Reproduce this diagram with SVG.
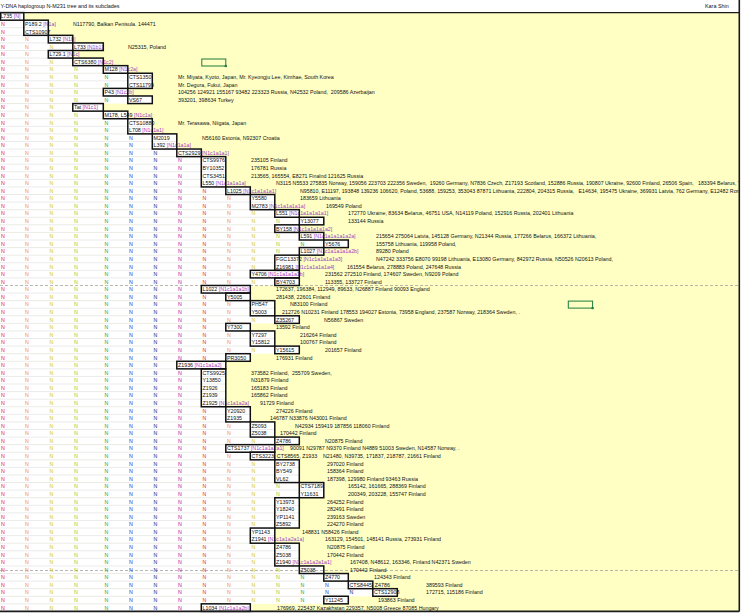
<svg xmlns="http://www.w3.org/2000/svg" width="743" height="613" viewBox="0 0 743 613">
<style>
text{font-family:"Liberation Sans",Arial,sans-serif;font-size:5.3px;fill:#111}
.l{fill:#a03cc0}
.w{fill:#fff}
.f{fill:none;stroke:#111;stroke-width:1.5}
text.nn{fill:url(#ng)}
</style>
<defs>
<clipPath id="clipR"><rect x="0" y="0" width="738.6" height="613"/></clipPath>
<linearGradient id="ng" gradientUnits="userSpaceOnUse" x1="0" y1="0" x2="400" y2="0">
<stop offset="0" stop-color="#e52d27"/><stop offset="0.0595" stop-color="#e52d27"/>
<stop offset="0.0595" stop-color="#f08c30"/><stop offset="0.12075" stop-color="#f08c30"/>
<stop offset="0.12075" stop-color="#cfc21e"/><stop offset="0.182" stop-color="#cfc21e"/>
<stop offset="0.182" stop-color="#96c83c"/><stop offset="0.25825" stop-color="#96c83c"/>
<stop offset="0.25825" stop-color="#2e9e3a"/><stop offset="0.3195" stop-color="#2e9e3a"/>
<stop offset="0.3195" stop-color="#2b3fd6"/><stop offset="0.38075" stop-color="#2b3fd6"/>
<stop offset="0.38075" stop-color="#23307a"/><stop offset="0.442" stop-color="#23307a"/>
<stop offset="0.442" stop-color="#9b2fae"/><stop offset="0.50325" stop-color="#9b2fae"/>
<stop offset="0.50325" stop-color="#e52d27"/><stop offset="0.5645" stop-color="#e52d27"/>
<stop offset="0.5645" stop-color="#f08c30"/><stop offset="0.62575" stop-color="#f08c30"/>
<stop offset="0.62575" stop-color="#cfc21e"/><stop offset="0.687" stop-color="#cfc21e"/>
<stop offset="0.687" stop-color="#96c83c"/><stop offset="0.74825" stop-color="#96c83c"/>
<stop offset="0.74825" stop-color="#2e9e3a"/><stop offset="0.8095" stop-color="#2e9e3a"/>
<stop offset="0.8095" stop-color="#2b3fd6"/><stop offset="0.87075" stop-color="#2b3fd6"/>
<stop offset="0.87075" stop-color="#23307a"/><stop offset="1" stop-color="#23307a"/>
</linearGradient>
</defs>
<rect x="0" y="0" width="743" height="613" fill="#fff"/>
<rect x="0" y="12.6" width="739" height="598.8" fill="#ffffc4"/>
<g id="title">
<text x="0.5" y="7.6" style="font-size:5.4px">Y-DNA haplogroup N-M231 tree and its subclades</text>
<text x="705" y="7.6" style="font-size:5.4px">Kara Shin</text>
</g>
<g id="whitecells">
<rect class="w" x="0" y="12.6" width="23.8" height="7.58"/>
<rect class="w" x="0" y="20.18" width="48.3" height="15.16"/>
<rect class="w" x="0" y="35.34" width="72.8" height="7.58"/>
<rect class="w" x="0" y="42.92" width="103.3" height="7.58"/>
<rect class="w" x="0" y="50.5" width="72.8" height="7.58"/>
<rect class="w" x="0" y="58.08" width="103.3" height="7.58"/>
<rect class="w" x="0" y="65.66" width="127.8" height="7.58"/>
<rect class="w" x="0" y="73.24" width="152.3" height="15.16"/>
<rect class="w" x="0" y="88.4" width="127.8" height="7.58"/>
<rect class="w" x="0" y="95.98" width="152.3" height="7.58"/>
<rect class="w" x="0" y="103.56" width="103.3" height="7.58"/>
<rect class="w" x="0" y="111.14" width="127.8" height="7.58"/>
<rect class="w" x="0" y="118.72" width="152.3" height="15.16"/>
<rect class="w" x="0" y="133.88" width="176.8" height="15.16"/>
<rect class="w" x="0" y="149.04" width="201.3" height="7.58"/>
<rect class="w" x="0" y="156.62" width="225.8" height="30.32"/>
<rect class="w" x="0" y="186.94" width="250.3" height="7.58"/>
<rect class="w" x="0" y="194.52" width="274.8" height="15.16"/>
<rect class="w" x="0" y="209.68" width="299.3" height="7.58"/>
<rect class="w" x="0" y="217.26" width="323.8" height="7.58"/>
<rect class="w" x="0" y="224.84" width="299.3" height="7.58"/>
<rect class="w" x="0" y="232.42" width="323.8" height="7.58"/>
<rect class="w" x="0" y="240" width="348.3" height="7.58"/>
<rect class="w" x="0" y="247.58" width="323.8" height="7.58"/>
<rect class="w" x="0" y="255.16" width="299.3" height="30.32"/>
<rect class="w" x="0" y="285.48" width="250.3" height="15.16"/>
<rect class="w" x="0" y="300.64" width="274.8" height="15.16"/>
<rect class="w" x="0" y="315.8" width="299.3" height="7.58"/>
<rect class="w" x="0" y="323.38" width="250.3" height="7.58"/>
<rect class="w" x="0" y="330.96" width="274.8" height="15.16"/>
<rect class="w" x="0" y="346.12" width="299.3" height="7.58"/>
<rect class="w" x="0" y="353.7" width="250.3" height="7.58"/>
<rect class="w" x="0" y="361.28" width="225.8" height="45.48"/>
<rect class="w" x="0" y="406.76" width="250.3" height="15.16"/>
<rect class="w" x="0" y="421.92" width="274.8" height="15.16"/>
<rect class="w" x="0" y="437.08" width="299.3" height="7.58"/>
<rect class="w" x="0" y="444.66" width="274.8" height="15.16"/>
<rect class="w" x="0" y="459.82" width="299.3" height="22.74"/>
<rect class="w" x="0" y="482.56" width="323.8" height="15.16"/>
<rect class="w" x="0" y="497.72" width="299.3" height="30.32"/>
<rect class="w" x="0" y="528.04" width="274.8" height="15.16"/>
<rect class="w" x="0" y="543.2" width="299.3" height="22.74"/>
<rect class="w" x="0" y="565.94" width="323.8" height="7.58"/>
<rect class="w" x="0" y="573.52" width="348.3" height="7.58"/>
<rect class="w" x="0" y="581.1" width="372.8" height="7.58"/>
<rect class="w" x="0" y="588.68" width="397.3" height="7.58"/>
<rect class="w" x="0" y="596.26" width="348.3" height="7.58"/>
<rect class="w" x="0" y="603.84" width="250.3" height="7.58"/>
</g>
<path id="gridlines" fill="none" stroke="#d6d6d6" stroke-width="0.5" d="M0 20.18H23.8M0 27.76H48.3M0 35.34H48.3M0 42.92H72.8M0 50.5H72.8M0 58.08H72.8M0 65.66H103.3M0 73.24H127.8M0 80.82H152.3M0 88.4H127.8M0 95.98H127.8M0 103.56H103.3M0 111.14H103.3M0 118.72H127.8M0 126.3H152.3M0 133.88H152.3M0 141.46H176.8M0 149.04H176.8M0 156.62H201.3M0 164.2H225.8M0 171.78H225.8M0 179.36H225.8M0 186.94H225.8M0 194.52H250.3M0 202.1H274.8M0 209.68H274.8M0 217.26H299.3M0 224.84H299.3M0 232.42H299.3M0 240H323.8M0 247.58H323.8M0 255.16H299.3M0 262.74H299.3M0 270.32H299.3M0 277.9H299.3M0 293.06H250.3M0 300.64H250.3M0 308.22H274.8M0 315.8H274.8M0 323.38H250.3M0 330.96H250.3M0 338.54H274.8M0 346.12H274.8M0 353.7H250.3M0 361.28H225.8M0 368.86H225.8M0 376.44H225.8M0 384.02H225.8M0 391.6H225.8M0 399.18H225.8M0 406.76H225.8M0 414.34H250.3M0 421.92H250.3M0 429.5H274.8M0 437.08H274.8M0 444.66H274.8M0 452.24H274.8M0 459.82H274.8M0 467.4H299.3M0 474.98H299.3M0 482.56H299.3M0 490.14H323.8M0 497.72H299.3M0 505.3H299.3M0 512.88H299.3M0 520.46H299.3M0 528.04H274.8M0 535.62H274.8M0 543.2H274.8M0 550.78H299.3M0 558.36H299.3M0 565.94H299.3M0 573.52H323.8M0 581.1H348.3M0 588.68H372.8M0 596.26H348.3M0 603.84H250.3"/>
<path id="pagebreaks" fill="none" stroke="#9a9a9a" stroke-width="0.7" stroke-dasharray="3 2" d="M0 285.5H738M0 570.5H738"/>
<g id="r1"><text x="0.4" y="18.4">L735 <tspan class="l">[N]</tspan></text></g>
<g id="r2"><text class="nn" x="1" y="25.9">N</text><text x="25" y="25.9">P189.2 <tspan class="l">[N1a]</tspan></text><text x="73" y="25.9">N117790, Balkan Penisula. 144471</text></g>
<g id="r3"><text class="nn" x="1" y="33.5">N</text><text x="25" y="33.5">CTS10907</text></g>
<g id="r4"><text class="nn" x="1 25" y="41.1">NN</text><text x="49.5" y="41.1">L732 <tspan class="l">[N1b]</tspan></text></g>
<g id="r5"><text class="nn" x="1 25 49.5" y="48.7">NNN</text><text x="74" y="48.7">L733 <tspan class="l">[N1b1]</tspan></text><text x="128" y="48.7">N25315, Poland</text></g>
<g id="r6"><text class="nn" x="1 25" y="56.3">NN</text><text x="49.5" y="56.3">L729.1 <tspan class="l">[N1c]</tspan></text></g>
<g id="r7"><text class="nn" x="1 25 49.5" y="63.8">NNN</text><text x="74" y="63.8">CTS6380 <tspan class="l">[N1c2]</tspan></text></g>
<g id="r8"><text class="nn" x="1 25 49.5 74" y="71.4">NNNN</text><text x="104.5" y="71.4">M128 <tspan class="l">[N1c2a]</tspan></text></g>
<g id="r9"><text class="nn" x="1 25 49.5 74 104.6" y="79">NNNNN</text><text x="129" y="79">CTS1350</text><text x="178" y="79">Mr. Miyata, Kyoto, Japan, Mr. Kyeongju Lee, Kimhae, South Korea</text></g>
<g id="r10"><text class="nn" x="1 25 49.5 74 104.6" y="86.6">NNNNN</text><text x="129" y="86.6">CTS11799</text><text x="178" y="86.6">Mr. Degura, Fukui, Japan</text></g>
<g id="r11"><text class="nn" x="1 25 49.5 74" y="94.2">NNNN</text><text x="104.5" y="94.2">P43 <tspan class="l">[N1c2b]</tspan></text><text x="178" y="94.2" xml:space="preserve">104256 124921 155167 93482 223323 Russia, N42532 Poland,  209586 Azerbaijan</text></g>
<g id="r12"><text class="nn" x="1 25 49.5 74 104.6" y="101.7">NNNNN</text><text x="129" y="101.7">VS67</text><text x="178" y="101.7">393201, 398634 Turkey</text></g>
<g id="r13"><text class="nn" x="1 25 49.5" y="109.3">NNN</text><text x="74" y="109.3">Tat <tspan class="l">[N1c1]</tspan></text></g>
<g id="r14"><text class="nn" x="1 25 49.5 74" y="116.9">NNNN</text><text x="104.5" y="116.9">M178, L549 <tspan class="l">[N1c1a]</tspan></text></g>
<g id="r15"><text class="nn" x="1 25 49.5 74 104.6" y="124.5">NNNNN</text><text x="129" y="124.5">CTS10880</text><text x="178" y="124.5">Mr. Terasawa, Niigata, Japan</text></g>
<g id="r16"><text class="nn" x="1 25 49.5 74 104.6" y="132.1">NNNNN</text><text x="129" y="132.1">L708 <tspan class="l">[N1c1a1]</tspan></text></g>
<g id="r17"><text class="nn" x="1 25 49.5 74 104.6 129" y="139.6">NNNNNN</text><text x="153.5" y="139.6">M2019</text><text x="202" y="139.6">N56160 Estonia, N92307 Croatia</text></g>
<g id="r18"><text class="nn" x="1 25 49.5 74 104.6 129" y="147.2">NNNNNN</text><text x="153.5" y="147.2">L392 <tspan class="l">[N1c1a1a]</tspan></text></g>
<g id="r19"><text class="nn" x="1 25 49.5 74 104.6 129 153.6" y="154.8">NNNNNNN</text><text x="178" y="154.8">CTS2929 <tspan class="l">[N1c1a1a1]</tspan></text></g>
<g id="r20"><text class="nn" x="1 25 49.5 74 104.6 129 153.6 178.1" y="162.4">NNNNNNNN</text><text x="202.5" y="162.4">CTS9976</text><text x="251" y="162.4">235105 Finland</text></g>
<g id="r21"><text class="nn" x="1 25 49.5 74 104.6 129 153.6 178.1" y="170">NNNNNNNN</text><text x="202.5" y="170">BY10352</text><text x="251" y="170">176781 Russia</text></g>
<g id="r22"><text class="nn" x="1 25 49.5 74 104.6 129 153.6 178.1" y="177.5">NNNNNNNN</text><text x="202.5" y="177.5">CTS3451</text><text x="251" y="177.5">213565, 165554, E8271 Finalnd 121625 Russia</text></g>
<g id="r23"><text class="nn" x="1 25 49.5 74 104.6 129 153.6 178.1" y="185.1">NNNNNNNN</text><text x="202.5" y="185.1">L550 <tspan class="l">[N1c1a1a1a]</tspan></text><text x="276" y="185.1" clip-path="url(#clipR)" textLength="465" lengthAdjust="spacingAndGlyphs" xml:space="preserve">N3115 N5533 275835 Norway, 159056 223703 222356 Sweden,  19260 Germany, N7836 Czech, Z17193 Scotland, 152886 Russia, 190807 Ukraine, 92600 Finland, 26506 Spain,   183394 Belarus, T</text></g>
<g id="r24"><text class="nn" x="1 25 49.5 74 104.6 129 153.6 178.1 202.6" y="192.7">NNNNNNNNN</text><text x="227" y="192.7">L1025 <tspan class="l">[N1c1a1a1a1]</tspan></text><text x="300" y="192.7" clip-path="url(#clipR)" textLength="441" lengthAdjust="spacingAndGlyphs" xml:space="preserve">N95810, E11197, 193848 139236 106620, Poland, 53688, 159253, 353043 87871 Lithuania, 222804, 204315 Russia,   E14634, 195475 Ukraine, 369931 Latvia, 762 Germany, E12482 Rom</text></g>
<g id="r25"><text class="nn" x="1 25 49.5 74 104.6 129 153.6 178.1 202.6 227.1" y="200.3">NNNNNNNNNN</text><text x="251.5" y="200.3">Y5580</text><text x="300" y="200.3">183659 Lithuania</text></g>
<g id="r26"><text class="nn" x="1 25 49.5 74 104.6 129 153.6 178.1 202.6 227.1" y="207.9">NNNNNNNNNN</text><text x="251.5" y="207.9">M2783 <tspan class="l">[N1c1a1a1a1a]</tspan></text><text x="326" y="207.9">169549 Poland</text></g>
<g id="r27"><text class="nn" x="1 25 49.5 74 104.6 129 153.6 178.1 202.6 227.1 251.6" y="215.4">NNNNNNNNNNN</text><text x="276" y="215.4">L551 <tspan class="l">[N1c1a1a1a1a1]</tspan></text><text x="348" y="215.4">172770 Ukraine, 83634 Belarus, 46751 USA, N14119 Poland, 152916 Russia, 202401 Lithuania</text></g>
<g id="r28"><text class="nn" x="1 25 49.5 74 104.6 129 153.6 178.1 202.6 227.1 251.6 276.1" y="223">NNNNNNNNNNNN</text><text x="300.5" y="223">Y13077</text><text x="348" y="223">133144 Russia</text></g>
<g id="r29"><text class="nn" x="1 25 49.5 74 104.6 129 153.6 178.1 202.6 227.1 251.6" y="230.6">NNNNNNNNNNN</text><text x="276" y="230.6">BY158 <tspan class="l">[N1c1a1a1a1a2]</tspan></text></g>
<g id="r30"><text class="nn" x="1 25 49.5 74 104.6 129 153.6 178.1 202.6 227.1 251.6 276.1" y="238.2">NNNNNNNNNNNN</text><text x="300.5" y="238.2">L591 <tspan class="l">[N1c1a1a1a1a2a]</tspan></text><text x="376" y="238.2">215654 275064 Latvia, 145128 Germany, N21344 Russia, 177266 Belarus, 166372 Lithuania,</text></g>
<g id="r31"><text class="nn" x="1 25 49.5 74 104.6 129 153.6 178.1 202.6 227.1 251.6 276.1 300.6" y="245.8">NNNNNNNNNNNNN</text><text x="325" y="245.8">Y5676</text><text x="376" y="245.8">155758 Lithuania, 119958 Poland,</text></g>
<g id="r32"><text class="nn" x="1 25 49.5 74 104.6 129 153.6 178.1 202.6 227.1 251.6 276.1" y="253.3">NNNNNNNNNNNN</text><text x="300.5" y="253.3">L1027 <tspan class="l">[N1c1a1a1a1a2b]</tspan></text><text x="376" y="253.3">89280 Poland</text></g>
<g id="r33"><text class="nn" x="1 25 49.5 74 104.6 129 153.6 178.1 202.6 227.1 251.6" y="260.9">NNNNNNNNNNN</text><text x="276" y="260.9">FGC13372 <tspan class="l">[N1c1a1a1a1a3]</tspan></text><text x="376" y="260.9">N47242 333756 E8070 99198 Lithuania, E13080 Germany, 842972 Russia, N50526 N20613 Poland,</text></g>
<g id="r34"><text class="nn" x="1 25 49.5 74 104.6 129 153.6 178.1 202.6 227.1 251.6" y="268.5">NNNNNNNNNNN</text><text x="276" y="268.5">Z16981 <tspan class="l">[N1c1a1a1a1a4]</tspan></text><text x="347" y="268.5">161554 Belarus, 278883 Poland, 247648 Russia</text></g>
<g id="r35"><text class="nn" x="1 25 49.5 74 104.6 129 153.6 178.1 202.6 227.1" y="276.1">NNNNNNNNNN</text><text x="251.5" y="276.1">Y4706 <tspan class="l">[N1c1a1a1a1b]</tspan></text><text x="325" y="276.1">231562 272510 Finland, 174607 Sweden, N9209 Poland</text></g>
<g id="r36"><text class="nn" x="1 25 49.5 74 104.6 129 153.6 178.1 202.6 227.1 251.6" y="283.7">NNNNNNNNNNN</text><text x="276" y="283.7">BY4703</text><text x="325" y="283.7">113355, 133727 Finland</text></g>
<g id="r37"><text class="nn" x="1 25 49.5 74 104.6 129 153.6 178.1" y="291.2">NNNNNNNN</text><text x="202.5" y="291.2">L1022 <tspan class="l">[N1c1a1a1b]</tspan></text><text x="276" y="291.2">172637, 196384, 112949, 89633, N26887 Finland 90093 England</text></g>
<g id="r38"><text class="nn" x="1 25 49.5 74 104.6 129 153.6 178.1 202.6" y="298.8">NNNNNNNNN</text><text x="227" y="298.8">Y5005</text><text x="276" y="298.8">281438, 22601 Finland</text></g>
<g id="r39"><text class="nn" x="1 25 49.5 74 104.6 129 153.6 178.1 202.6 227.1" y="306.4">NNNNNNNNNN</text><text x="251.5" y="306.4">PH547</text><text x="290" y="306.4">N83100 Finland</text></g>
<g id="r40"><text class="nn" x="1 25 49.5 74 104.6 129 153.6 178.1 202.6 227.1" y="314">NNNNNNNNNN</text><text x="251.5" y="314">Y5003</text><text x="282" y="314">212726 N10231 Finland 178553 194027 Estonia, 73958 England, 237587 Norway, 218364 Sweden, .</text></g>
<g id="r41"><text class="nn" x="1 25 49.5 74 104.6 129 153.6 178.1 202.6 227.1 251.6" y="321.6">NNNNNNNNNNN</text><text x="276" y="321.6">Z35267</text><text x="324" y="321.6">N56867 Sweden</text></g>
<g id="r42"><text class="nn" x="1 25 49.5 74 104.6 129 153.6 178.1 202.6" y="329.1">NNNNNNNNN</text><text x="227" y="329.1">Y7300</text><text x="276" y="329.1">13592 Finland</text></g>
<g id="r43"><text class="nn" x="1 25 49.5 74 104.6 129 153.6 178.1 202.6 227.1" y="336.7">NNNNNNNNNN</text><text x="251.5" y="336.7">Y7297</text><text x="300" y="336.7">216264 Finland</text></g>
<g id="r44"><text class="nn" x="1 25 49.5 74 104.6 129 153.6 178.1 202.6 227.1" y="344.3">NNNNNNNNNN</text><text x="251.5" y="344.3">Y15812</text><text x="300" y="344.3">100767 Finland</text></g>
<g id="r45"><text class="nn" x="1 25 49.5 74 104.6 129 153.6 178.1 202.6 227.1 251.6" y="351.9">NNNNNNNNNNN</text><text x="276" y="351.9">Y15615</text><text x="325" y="351.9">201657 Finland</text></g>
<g id="r46"><text class="nn" x="1 25 49.5 74 104.6 129 153.6 178.1 202.6" y="359.5">NNNNNNNNN</text><text x="227" y="359.5">PR3050</text><text x="276" y="359.5">176931 Finland</text></g>
<g id="r47"><text class="nn" x="1 25 49.5 74 104.6 129 153.6" y="367">NNNNNNN</text><text x="178" y="367">Z1936 <tspan class="l">[N1c1a1a2]</tspan></text></g>
<g id="r48"><text class="nn" x="1 25 49.5 74 104.6 129 153.6 178.1" y="374.6">NNNNNNNN</text><text x="202.5" y="374.6">CTS9925</text><text x="251" y="374.6" xml:space="preserve">373582 Finland,  255709 Sweden,</text></g>
<g id="r49"><text class="nn" x="1 25 49.5 74 104.6 129 153.6 178.1" y="382.2">NNNNNNNN</text><text x="202.5" y="382.2">Y13850</text><text x="251" y="382.2">N31879 Finland</text></g>
<g id="r50"><text class="nn" x="1 25 49.5 74 104.6 129 153.6 178.1" y="389.8">NNNNNNNN</text><text x="202.5" y="389.8">Z1926</text><text x="251" y="389.8">165183 Finland</text></g>
<g id="r51"><text class="nn" x="1 25 49.5 74 104.6 129 153.6 178.1" y="397.4">NNNNNNNN</text><text x="202.5" y="397.4">Z1939</text><text x="251" y="397.4">165862 Finland</text></g>
<g id="r52"><text class="nn" x="1 25 49.5 74 104.6 129 153.6 178.1" y="404.9">NNNNNNNN</text><text x="202.5" y="404.9">Z1925 <tspan class="l">[N1c1a1a2a]</tspan></text><text x="260" y="404.9">91729 Finland</text></g>
<g id="r53"><text class="nn" x="1 25 49.5 74 104.6 129 153.6 178.1 202.6" y="412.5">NNNNNNNNN</text><text x="227" y="412.5">Y20920</text><text x="276" y="412.5">274226 Finland</text></g>
<g id="r54"><text class="nn" x="1 25 49.5 74 104.6 129 153.6 178.1 202.6" y="420.1">NNNNNNNNN</text><text x="227" y="420.1">Z1935</text><text x="270" y="420.1">146787 N33876 N43001 Finland</text></g>
<g id="r55"><text class="nn" x="1 25 49.5 74 104.6 129 153.6 178.1 202.6 227.1" y="427.7">NNNNNNNNNN</text><text x="251.5" y="427.7">Z5093</text><text x="295" y="427.7">N42934 159419 187856 118060 Finland</text></g>
<g id="r56"><text class="nn" x="1 25 49.5 74 104.6 129 153.6 178.1 202.6 227.1" y="435.3">NNNNNNNNNN</text><text x="251.5" y="435.3">Z5038</text><text x="280" y="435.3">170442 Finland</text></g>
<g id="r57"><text class="nn" x="1 25 49.5 74 104.6 129 153.6 178.1 202.6 227.1 251.6" y="442.8">NNNNNNNNNNN</text><text x="276" y="442.8">Z4786</text><text x="325" y="442.8">N20875 Finland</text></g>
<g id="r58"><text class="nn" x="1 25 49.5 74 104.6 129 153.6 178.1 202.6" y="450.4">NNNNNNNNN</text><text x="227" y="450.4">CTS1737 <tspan class="l">[N1c1a1a2a1]</tspan></text><text x="290" y="450.4">90091 N29787 N9370 Finland N4889 51003 Sweden, N14587 Norway, .</text></g>
<g id="r59"><text class="nn" x="1 25 49.5 74 104.6 129 153.6 178.1 202.6 227.1" y="458">NNNNNNNNNN</text><text x="251.5" y="458">CTS3223, CTS8565, Z1933</text><text x="323" y="458">N21480, N39735, 171837, 218787, 21661 Finland</text></g>
<g id="r60"><text class="nn" x="1 25 49.5 74 104.6 129 153.6 178.1 202.6 227.1 251.6" y="465.6">NNNNNNNNNNN</text><text x="276" y="465.6">BY2738</text><text x="327" y="465.6">297020 Finland</text></g>
<g id="r61"><text class="nn" x="1 25 49.5 74 104.6 129 153.6 178.1 202.6 227.1 251.6" y="473.2">NNNNNNNNNNN</text><text x="276" y="473.2">BY549</text><text x="327" y="473.2">158364 Finland</text></g>
<g id="r62"><text class="nn" x="1 25 49.5 74 104.6 129 153.6 178.1 202.6 227.1 251.6" y="480.7">NNNNNNNNNNN</text><text x="276" y="480.7">VL62</text><text x="327" y="480.7">187398, 129980 Finland 93463 Russia</text></g>
<g id="r63"><text class="nn" x="1 25 49.5 74 104.6 129 153.6 178.1 202.6 227.1 251.6 276.1" y="488.3">NNNNNNNNNNNN</text><text x="300.5" y="488.3">CTS7189</text><text x="348" y="488.3">165142, 161665, 288369 Finland</text></g>
<g id="r64"><text class="nn" x="1 25 49.5 74 104.6 129 153.6 178.1 202.6 227.1 251.6 276.1" y="495.9">NNNNNNNNNNNN</text><text x="300.5" y="495.9">Y11631</text><text x="348" y="495.9">200349, 203228, 155747 Finland</text></g>
<g id="r65"><text class="nn" x="1 25 49.5 74 104.6 129 153.6 178.1 202.6 227.1 251.6" y="503.5">NNNNNNNNNNN</text><text x="276" y="503.5">Y13973</text><text x="327" y="503.5">264252 Finland</text></g>
<g id="r66"><text class="nn" x="1 25 49.5 74 104.6 129 153.6 178.1 202.6 227.1 251.6" y="511.1">NNNNNNNNNNN</text><text x="276" y="511.1">Y18240</text><text x="327" y="511.1">282491 Finland</text></g>
<g id="r67"><text class="nn" x="1 25 49.5 74 104.6 129 153.6 178.1 202.6 227.1 251.6" y="518.6">NNNNNNNNNNN</text><text x="276" y="518.6">YP1141</text><text x="327" y="518.6">239163 Sweden</text></g>
<g id="r68"><text class="nn" x="1 25 49.5 74 104.6 129 153.6 178.1 202.6 227.1 251.6" y="526.2">NNNNNNNNNNN</text><text x="276" y="526.2">Z5892</text><text x="327" y="526.2">224270 Finland</text></g>
<g id="r69"><text class="nn" x="1 25 49.5 74 104.6 129 153.6 178.1 202.6 227.1" y="533.8">NNNNNNNNNN</text><text x="251.5" y="533.8">YP1143</text><text x="302" y="533.8">148831 N58426 Finland</text></g>
<g id="r70"><text class="nn" x="1 25 49.5 74 104.6 129 153.6 178.1 202.6 227.1" y="541.4">NNNNNNNNNN</text><text x="251.5" y="541.4">Z1941 <tspan class="l">[N1c1a1a2a1a]</tspan></text><text x="325" y="541.4">163129, 154501, 148141 Russia, 273931 Finland</text></g>
<g id="r71"><text class="nn" x="1 25 49.5 74 104.6 129 153.6 178.1 202.6 227.1 251.6" y="549">NNNNNNNNNNN</text><text x="276" y="549">Z4786</text><text x="327" y="549">N20875 Finland</text></g>
<g id="r72"><text class="nn" x="1 25 49.5 74 104.6 129 153.6 178.1 202.6 227.1 251.6" y="556.5">NNNNNNNNNNN</text><text x="276" y="556.5">Z5038</text><text x="327" y="556.5">170442 Finland</text></g>
<g id="r73"><text class="nn" x="1 25 49.5 74 104.6 129 153.6 178.1 202.6 227.1 251.6" y="564.1">NNNNNNNNNNN</text><text x="276" y="564.1">Z1940 <tspan class="l">[N1c1a1a2a1a1]</tspan></text><text x="350" y="564.1">167408, N48612, 163346, Finland N42371 Sweden</text></g>
<g id="r74"><text class="nn" x="1 25 49.5 74 104.6 129 153.6 178.1 202.6 227.1 251.6 276.1" y="571.7">NNNNNNNNNNNN</text><text x="300.5" y="571.7">Z5038</text><text x="350" y="571.7">170442 Finland</text></g>
<g id="r75"><text class="nn" x="1 25 49.5 74 104.6 129 153.6 178.1 202.6 227.1 251.6 276.1 300.6" y="579.3">NNNNNNNNNNNNN</text><text x="325" y="579.3">Z4770</text><text x="374" y="579.3">124343 Finland</text></g>
<g id="r76"><text class="nn" x="1 25 49.5 74 104.6 129 153.6 178.1 202.6 227.1 251.6 276.1 300.6 325.1" y="586.9">NNNNNNNNNNNNNN</text><text x="349.5" y="586.9">CTS8445, Z4786</text><text x="426" y="586.9">389593 Finland</text></g>
<g id="r77"><text class="nn" x="1 25 49.5 74 104.6 129 153.6 178.1 202.6 227.1 251.6 276.1 300.6 325.1 349.6" y="594.4">NNNNNNNNNNNNNNN</text><text x="374" y="594.4">CTS12908</text><text x="426" y="594.4">172715, 115186 Finland</text></g>
<g id="r78"><text class="nn" x="1 25 49.5 74 104.6 129 153.6 178.1 202.6 227.1 251.6 276.1 300.6" y="602">NNNNNNNNNNNNN</text><text x="325" y="602">Y11245</text><text x="378" y="602">193863 Finland</text></g>
<g id="r79"><text class="nn" x="1 25 49.5 74 104.6 129 153.6 178.1" y="609.6">NNNNNNNN</text><text x="202.5" y="609.6">L1034 <tspan class="l">[N1c1a1a2b]</tspan></text><text x="277" y="609.6">176969, 225437 Kazakhstan 229357, N5008 Greece 87085 Hungary</text></g>
<g id="frames">
<rect class="f" x="0.5" y="12.6" width="23.3" height="7.58"/>
<rect class="f" x="23.8" y="20.18" width="24.5" height="15.16"/>
<rect class="f" x="48.3" y="35.34" width="24.5" height="7.58"/>
<rect class="f" x="72.8" y="42.92" width="30.5" height="7.58"/>
<rect class="f" x="48.3" y="50.5" width="24.5" height="7.58"/>
<rect class="f" x="72.8" y="58.08" width="30.5" height="7.58"/>
<rect class="f" x="103.3" y="65.66" width="24.5" height="7.58"/>
<rect class="f" x="127.8" y="73.24" width="24.5" height="15.16"/>
<rect class="f" x="103.3" y="88.4" width="24.5" height="7.58"/>
<rect class="f" x="127.8" y="95.98" width="24.5" height="7.58"/>
<rect class="f" x="72.8" y="103.56" width="30.5" height="7.58"/>
<rect class="f" x="103.3" y="111.14" width="24.5" height="7.58"/>
<rect class="f" x="127.8" y="118.72" width="24.5" height="15.16"/>
<rect class="f" x="152.3" y="133.88" width="24.5" height="15.16"/>
<rect class="f" x="176.8" y="149.04" width="24.5" height="7.58"/>
<rect class="f" x="201.3" y="156.62" width="24.5" height="30.32"/>
<rect class="f" x="225.8" y="186.94" width="24.5" height="7.58"/>
<rect class="f" x="250.3" y="194.52" width="24.5" height="15.16"/>
<rect class="f" x="274.8" y="209.68" width="24.5" height="7.58"/>
<rect class="f" x="299.3" y="217.26" width="24.5" height="7.58"/>
<rect class="f" x="274.8" y="224.84" width="24.5" height="7.58"/>
<rect class="f" x="299.3" y="232.42" width="24.5" height="7.58"/>
<rect class="f" x="323.8" y="240" width="24.5" height="7.58"/>
<rect class="f" x="299.3" y="247.58" width="24.5" height="7.58"/>
<rect class="f" x="274.8" y="255.16" width="24.5" height="15.16"/>
<rect class="f" x="250.3" y="270.32" width="49" height="7.58"/>
<rect class="f" x="274.8" y="277.9" width="24.5" height="7.58"/>
<rect class="f" x="201.3" y="285.48" width="49" height="7.58"/>
<rect class="f" x="225.8" y="293.06" width="24.5" height="7.58"/>
<rect class="f" x="250.3" y="300.64" width="24.5" height="15.16"/>
<rect class="f" x="274.8" y="315.8" width="24.5" height="7.58"/>
<rect class="f" x="225.8" y="323.38" width="24.5" height="7.58"/>
<rect class="f" x="250.3" y="330.96" width="24.5" height="15.16"/>
<rect class="f" x="274.8" y="346.12" width="24.5" height="7.58"/>
<rect class="f" x="225.8" y="353.7" width="24.5" height="7.58"/>
<rect class="f" x="176.8" y="361.28" width="49" height="7.58"/>
<rect class="f" x="201.3" y="368.86" width="24.5" height="37.9"/>
<rect class="f" x="225.8" y="406.76" width="24.5" height="15.16"/>
<rect class="f" x="250.3" y="421.92" width="24.5" height="15.16"/>
<rect class="f" x="274.8" y="437.08" width="24.5" height="7.58"/>
<rect class="f" x="225.8" y="444.66" width="49" height="7.58"/>
<rect class="f" x="250.3" y="452.24" width="24.5" height="7.58"/>
<rect class="f" x="274.8" y="459.82" width="24.5" height="22.74"/>
<rect class="f" x="299.3" y="482.56" width="24.5" height="15.16"/>
<rect class="f" x="274.8" y="497.72" width="24.5" height="30.32"/>
<rect class="f" x="250.3" y="528.04" width="24.5" height="15.16"/>
<rect class="f" x="274.8" y="543.2" width="24.5" height="22.74"/>
<rect class="f" x="299.3" y="565.94" width="24.5" height="7.58"/>
<rect class="f" x="323.8" y="573.52" width="24.5" height="7.58"/>
<rect class="f" x="348.3" y="581.1" width="24.5" height="7.58"/>
<rect class="f" x="372.8" y="588.68" width="24.5" height="7.58"/>
<rect class="f" x="323.8" y="596.26" width="24.5" height="7.58"/>
<rect class="f" x="201.3" y="603.84" width="49" height="7.58"/>
</g>
<g id="selection">
<rect x="201.8" y="59" width="24" height="7" fill="none" stroke="#1f7a3d" stroke-width="1"/>
<rect x="224.7" y="64.9" width="2.2" height="2.2" fill="#1f7a3d"/>
<rect x="568.3" y="301.1" width="24.3" height="7" fill="none" stroke="#1f7a3d" stroke-width="1"/>
<rect x="591.5" y="307" width="2.2" height="2.2" fill="#1f7a3d"/>
</g>
<g id="border" fill="none" stroke="#1a1a1a">
<path d="M0 12.6H739.3" stroke-width="1.4"/>
<path d="M0 611.4H739.3" stroke-width="1.6"/>
<path d="M739.3 0V611.4" stroke-width="1.6"/>
</g>
</svg>
